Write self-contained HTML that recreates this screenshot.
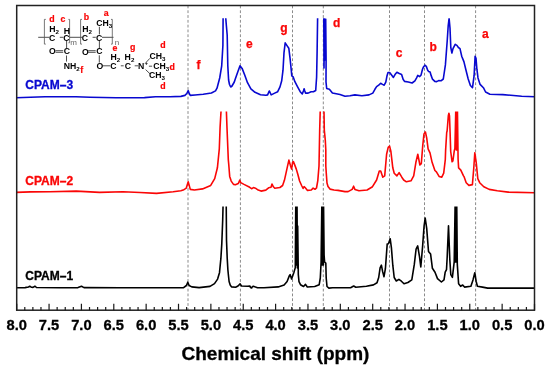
<!DOCTYPE html><html><head><meta charset="utf-8"><style>html,body{margin:0;padding:0;background:#fff;}svg{display:block;}text{font-family:"Liberation Sans",Arial,sans-serif;}</style></head><body>
<svg width="550" height="369" viewBox="0 0 550 369">
<rect width="550" height="369" fill="#fff"/>
<defs><clipPath id="c1"><rect x="16.7" y="206.6" width="517.8" height="110"/></clipPath><clipPath id="c2"><rect x="16.7" y="111.4" width="517.8" height="200"/></clipPath><clipPath id="c3"><rect x="16.7" y="18.3" width="517.8" height="290"/></clipPath></defs>
<line x1="188.0" y1="5.5" x2="188.0" y2="310.2" stroke="#8a8a8a" stroke-width="1" stroke-dasharray="2.8 2"/>
<line x1="240.4" y1="5.5" x2="240.4" y2="310.2" stroke="#8a8a8a" stroke-width="1" stroke-dasharray="2.8 2"/>
<line x1="292.5" y1="5.5" x2="292.5" y2="310.2" stroke="#8a8a8a" stroke-width="1" stroke-dasharray="2.8 2"/>
<line x1="323.3" y1="5.5" x2="323.3" y2="310.2" stroke="#8a8a8a" stroke-width="1" stroke-dasharray="2.8 2"/>
<line x1="389.5" y1="5.5" x2="389.5" y2="310.2" stroke="#8a8a8a" stroke-width="1" stroke-dasharray="2.8 2"/>
<line x1="424.5" y1="5.5" x2="424.5" y2="310.2" stroke="#8a8a8a" stroke-width="1" stroke-dasharray="2.8 2"/>
<line x1="475.6" y1="5.5" x2="475.6" y2="310.2" stroke="#8a8a8a" stroke-width="1" stroke-dasharray="2.8 2"/>
<polyline clip-path="url(#c1)" points="16.0,287.8 25.0,287.6 28.5,287.0 29.8,286.2 31.5,287.3 33.0,287.4 34.9,286.2 36.5,287.5 60.0,287.8 78.0,287.6 81.5,286.3 84.0,287.6 120.0,287.8 183.6,287.6 186.4,285.5 187.8,282.2 189.1,285.5 191.8,286.9 199.1,287.6 210.0,286.4 214.5,283.6 217.6,279.1 219.5,272.7 220.9,258.2 221.8,243.6 222.7,220.0 223.2,200.0 223.4,190.0 226.0,190.0 226.2,200.0 226.5,240.0 227.2,258.0 227.9,270.0 228.5,276.0 229.1,281.5 230.2,285.0 231.5,286.9 235.6,287.2 238.0,286.0 240.1,283.9 241.5,286.0 247.5,286.3 249.8,286.0 250.6,287.5 251.6,288.0 252.3,286.8 253.4,286.3 257.5,287.8 264.0,287.8 278.2,286.9 284.1,285.1 287.1,281.5 289.4,275.6 290.1,274.6 291.6,279.0 293.8,272.8 295.3,267.6 295.8,200.0 296.2,265.0 296.4,200.0 296.7,265.0 297.0,200.0 297.4,268.0 297.7,226.0 298.3,274.3 299.0,281.7 300.5,284.7 303.5,286.5 305.5,284.4 307.3,287.0 314.7,286.5 319.2,284.7 320.3,278.0 321.1,262.0 321.9,200.0 322.2,265.0 322.5,200.0 322.8,265.0 323.1,200.0 323.4,265.0 323.5,200.0 324.1,255.0 324.6,262.0 325.8,263.0 326.2,278.0 327.0,286.5 328.9,288.1 332.6,287.7 340.0,287.7 350.6,287.7 353.7,286.0 355.8,287.2 366.4,286.3 373.5,284.9 377.0,282.8 378.7,277.5 380.1,267.9 381.4,265.2 382.6,271.4 384.0,276.7 385.4,268.7 387.2,244.1 388.4,243.7 390.2,238.8 391.4,247.6 392.8,265.2 394.2,277.5 396.3,281.0 398.9,279.4 401.4,281.2 404.0,283.8 407.9,282.5 411.8,279.9 414.3,264.4 416.1,249.0 417.7,245.9 419.5,256.7 420.8,267.0 422.6,246.4 424.1,225.8 425.2,218.0 426.7,228.4 428.5,251.5 430.6,254.1 432.4,268.3 435.0,272.2 437.5,278.6 441.4,282.0 444.0,279.9 445.2,272.2 446.5,269.6 447.2,256.7 448.5,225.8 449.8,259.3 450.8,274.7 452.4,277.3 454.2,261.9 455.2,200.0 455.5,262.0 455.7,200.0 456.0,262.0 456.3,200.0 456.5,262.0 456.7,200.0 457.3,264.4 458.6,283.8 460.6,286.3 462.7,285.0 464.5,287.1 470.9,286.3 473.0,279.9 474.8,272.7 476.1,281.2 477.4,286.3 482.5,287.1 487.7,288.1 535.0,288.1" fill="none" stroke="#000000" stroke-width="1.6" stroke-linejoin="round"/>
<polyline clip-path="url(#c2)" points="16.0,192.4 30.5,191.9 50.0,191.8 76.2,191.1 99.6,192.4 123.0,191.8 140.0,192.5 156.5,193.4 173.2,191.8 180.8,190.8 183.2,190.1 186.3,188.1 188.2,181.8 190.3,189.4 194.4,190.0 202.5,188.9 210.7,185.4 214.7,178.6 217.4,167.8 219.3,148.8 220.1,127.1 221.0,111.5 221.2,100.0 226.3,100.0 226.4,111.5 227.0,128.0 228.3,159.6 228.8,165.0 229.7,176.4 231.2,181.1 233.5,184.4 235.4,184.7 238.3,183.5 239.7,180.2 240.7,182.6 244.0,184.4 249.7,187.3 251.6,188.7 253.5,187.6 255.4,188.2 258.2,190.1 261.0,191.1 265.8,190.1 268.6,187.8 271.0,187.3 272.0,184.0 273.4,186.8 274.8,188.2 279.9,187.5 282.6,185.5 284.4,180.3 285.9,173.6 287.7,165.4 288.9,160.1 290.4,165.4 291.6,169.1 292.6,162.4 293.4,161.6 294.9,165.4 296.3,169.1 297.8,174.3 299.6,181.0 301.6,185.5 303.1,188.5 304.1,186.6 305.3,187.8 307.5,190.4 311.3,190.0 313.1,188.1 315.0,189.3 316.5,188.0 317.8,180.6 319.0,166.0 319.7,129.4 320.2,111.8 320.3,100.0 323.9,100.0 324.0,111.5 324.3,130.0 325.3,140.4 325.8,150.0 325.8,166.0 326.4,175.0 327.0,183.0 328.0,186.5 330.0,189.1 334.0,190.0 338.0,190.4 345.0,191.6 348.1,191.6 352.2,189.4 353.6,186.2 354.9,189.4 359.0,190.8 367.1,190.0 372.5,186.7 376.6,180.0 379.3,171.0 380.7,171.0 382.8,177.2 384.7,175.9 386.6,154.2 388.2,147.4 389.6,146.1 390.9,151.5 392.8,167.8 394.2,173.2 396.9,175.9 399.1,172.6 401.8,177.2 403.7,180.0 406.4,181.8 411.0,180.8 413.7,175.9 415.9,162.3 417.8,154.2 419.9,165.0 421.3,163.7 422.7,146.1 424.0,133.9 425.4,132.0 426.7,137.9 428.1,148.8 430.0,152.8 432.1,162.3 434.9,170.5 436.4,171.8 439.1,176.4 441.8,177.2 443.7,173.2 445.3,159.6 445.6,150.6 446.7,132.5 447.1,131.0 447.6,125.0 448.3,116.0 448.9,113.2 449.5,116.0 450.1,132.5 450.7,151.5 451.8,159.6 452.1,161.8 452.9,161.0 454.3,150.6 454.9,148.4 456.0,100.0 456.3,150.0 456.6,100.0 456.9,150.0 457.3,100.0 458.1,159.2 458.6,167.9 460.8,170.1 463.5,175.9 464.0,176.6 466.2,182.7 468.9,185.4 472.4,184.6 473.8,167.8 474.8,152.8 476.2,162.3 477.8,178.6 479.7,182.7 483.8,186.7 489.2,189.4 497.3,190.8 508.2,192.1 535.0,192.7" fill="none" stroke="#FA0606" stroke-width="1.6" stroke-linejoin="round"/>
<polyline clip-path="url(#c3)" points="16.0,97.7 45.0,96.8 76.0,96.8 90.0,97.3 116.0,97.7 144.5,97.6 155.5,96.7 170.0,96.7 180.9,96.4 184.9,95.4 186.8,93.5 188.2,90.6 189.2,93.5 190.3,95.4 195.0,95.0 203.2,94.3 211.4,93.0 215.5,90.9 217.0,88.2 219.7,78.0 221.7,65.8 222.9,45.5 223.1,18.7 223.2,10.0 225.7,10.0 225.8,18.7 226.4,26.0 227.2,35.3 227.8,65.8 228.6,80.0 229.5,84.5 230.7,87.0 232.0,86.0 234.3,82.0 235.2,79.3 237.3,73.2 240.0,65.7 242.1,68.4 244.8,75.2 247.5,82.7 250.9,88.9 255.0,92.3 260.5,94.7 265.9,95.3 267.6,94.9 268.6,92.5 269.4,91.0 270.3,93.0 271.2,94.9 274.7,93.1 277.7,91.7 280.0,86.9 281.7,80.8 283.0,70.2 284.0,52.6 285.2,42.9 287.0,45.6 288.8,48.2 290.0,57.9 291.1,68.5 291.8,75.8 293.2,76.9 294.9,81.7 297.6,86.9 300.2,91.7 302.3,94.0 303.4,91.0 304.1,88.7 304.8,91.0 305.5,93.1 308.1,93.1 311.1,91.7 313.4,91.7 315.7,90.5 316.6,77.3 317.1,52.6 317.6,18.3 317.7,10.0 323.6,10.0 323.8,19.0 324.0,68.0 324.6,19.0 325.2,60.0 325.7,19.0 326.1,60.0 326.0,82.0 326.7,88.5 329.4,89.3 332.4,93.0 340.0,94.5 345.0,96.2 350.0,95.8 354.9,94.9 361.9,95.8 369.0,94.9 372.8,93.1 374.9,89.3 376.6,86.6 378.7,85.2 380.6,83.3 382.5,84.4 384.2,85.2 385.8,82.2 386.9,76.3 388.0,72.5 389.6,72.5 391.2,74.6 393.4,77.4 395.0,74.6 396.9,72.3 399.3,73.5 401.6,74.4 403.1,79.2 404.5,81.4 408.3,82.0 412.1,83.0 414.9,80.8 416.6,77.8 417.8,75.4 419.7,76.6 421.1,74.9 422.5,69.2 423.5,66.9 424.9,65.2 426.3,66.4 427.7,70.2 428.7,71.6 430.1,72.1 431.1,75.4 432.5,79.2 434.8,81.4 436.7,81.6 438.6,80.6 441.0,80.8 443.3,79.0 445.4,64.9 447.2,41.0 448.2,25.8 449.1,18.3 450.0,28.0 450.8,47.5 451.9,53.0 453.0,48.6 455.2,44.3 456.9,45.4 458.4,47.5 460.0,48.6 461.7,56.2 463.9,61.6 466.0,70.3 468.2,79.0 470.4,85.5 472.5,87.7 474.1,75.7 475.1,56.2 476.0,58.4 476.9,69.2 478.0,77.9 480.1,84.4 483.4,87.7 485.6,92.0 489.9,94.2 502.8,94.6 521.7,96.2 535.0,96.7" fill="none" stroke="#0808D0" stroke-width="1.6" stroke-linejoin="round"/>
<rect x="16.7" y="5.5" width="517.8" height="304.7" fill="none" stroke="#222" stroke-width="1.5"/>
<path d="M16.70 310.2V303.7M24.79 310.2V306.9M32.88 310.2V306.9M40.97 310.2V306.9M49.06 310.2V303.7M57.15 310.2V306.9M65.24 310.2V306.9M73.33 310.2V306.9M81.42 310.2V303.7M89.52 310.2V306.9M97.61 310.2V306.9M105.70 310.2V306.9M113.79 310.2V303.7M121.88 310.2V306.9M129.97 310.2V306.9M138.06 310.2V306.9M146.15 310.2V303.7M154.24 310.2V306.9M162.33 310.2V306.9M170.42 310.2V306.9M178.51 310.2V303.7M186.60 310.2V306.9M194.69 310.2V306.9M202.78 310.2V306.9M210.87 310.2V303.7M218.97 310.2V306.9M227.06 310.2V306.9M235.15 310.2V306.9M243.24 310.2V303.7M251.33 310.2V306.9M259.42 310.2V306.9M267.51 310.2V306.9M275.60 310.2V303.7M283.69 310.2V306.9M291.78 310.2V306.9M299.87 310.2V306.9M307.96 310.2V303.7M316.05 310.2V306.9M324.14 310.2V306.9M332.23 310.2V306.9M340.32 310.2V303.7M348.42 310.2V306.9M356.51 310.2V306.9M364.60 310.2V306.9M372.69 310.2V303.7M380.78 310.2V306.9M388.87 310.2V306.9M396.96 310.2V306.9M405.05 310.2V303.7M413.14 310.2V306.9M421.23 310.2V306.9M429.32 310.2V306.9M437.41 310.2V303.7M445.50 310.2V306.9M453.59 310.2V306.9M461.68 310.2V306.9M469.77 310.2V303.7M477.87 310.2V306.9M485.96 310.2V306.9M494.05 310.2V306.9M502.14 310.2V303.7M510.23 310.2V306.9M518.32 310.2V306.9M526.41 310.2V306.9M534.50 310.2V303.7" stroke="#1a1a1a" stroke-width="1.2" fill="none"/>
<text x="16.70" y="329.7" font-size="14.7" font-weight="bold" text-anchor="middle" fill="#000" stroke="#000" stroke-width="0.3">8.0</text>
<text x="49.06" y="329.7" font-size="14.7" font-weight="bold" text-anchor="middle" fill="#000" stroke="#000" stroke-width="0.3">7.5</text>
<text x="81.42" y="329.7" font-size="14.7" font-weight="bold" text-anchor="middle" fill="#000" stroke="#000" stroke-width="0.3">7.0</text>
<text x="113.79" y="329.7" font-size="14.7" font-weight="bold" text-anchor="middle" fill="#000" stroke="#000" stroke-width="0.3">6.5</text>
<text x="146.15" y="329.7" font-size="14.7" font-weight="bold" text-anchor="middle" fill="#000" stroke="#000" stroke-width="0.3">6.0</text>
<text x="178.51" y="329.7" font-size="14.7" font-weight="bold" text-anchor="middle" fill="#000" stroke="#000" stroke-width="0.3">5.5</text>
<text x="210.87" y="329.7" font-size="14.7" font-weight="bold" text-anchor="middle" fill="#000" stroke="#000" stroke-width="0.3">5.0</text>
<text x="243.24" y="329.7" font-size="14.7" font-weight="bold" text-anchor="middle" fill="#000" stroke="#000" stroke-width="0.3">4.5</text>
<text x="275.60" y="329.7" font-size="14.7" font-weight="bold" text-anchor="middle" fill="#000" stroke="#000" stroke-width="0.3">4.0</text>
<text x="307.96" y="329.7" font-size="14.7" font-weight="bold" text-anchor="middle" fill="#000" stroke="#000" stroke-width="0.3">3.5</text>
<text x="340.32" y="329.7" font-size="14.7" font-weight="bold" text-anchor="middle" fill="#000" stroke="#000" stroke-width="0.3">3.0</text>
<text x="372.69" y="329.7" font-size="14.7" font-weight="bold" text-anchor="middle" fill="#000" stroke="#000" stroke-width="0.3">2.5</text>
<text x="405.05" y="329.7" font-size="14.7" font-weight="bold" text-anchor="middle" fill="#000" stroke="#000" stroke-width="0.3">2.0</text>
<text x="437.41" y="329.7" font-size="14.7" font-weight="bold" text-anchor="middle" fill="#000" stroke="#000" stroke-width="0.3">1.5</text>
<text x="469.77" y="329.7" font-size="14.7" font-weight="bold" text-anchor="middle" fill="#000" stroke="#000" stroke-width="0.3">1.0</text>
<text x="502.14" y="329.7" font-size="14.7" font-weight="bold" text-anchor="middle" fill="#000" stroke="#000" stroke-width="0.3">0.5</text>
<text x="534.50" y="329.7" font-size="14.7" font-weight="bold" text-anchor="middle" fill="#000" stroke="#000" stroke-width="0.3">0.0</text>
<text x="275.5" y="360.3" font-size="19" font-weight="bold" text-anchor="middle" fill="#000" stroke="#000" stroke-width="0.3">Chemical shift (ppm)</text>
<text x="25.3" y="88.6" font-size="12" font-weight="bold" fill="#0808D0" stroke="#0808D0" stroke-width="0.3">CPAM–3</text>
<text x="25.3" y="184.6" font-size="12" font-weight="bold" fill="#FA0606" stroke="#FA0606" stroke-width="0.3">CPAM–2</text>
<text x="25.3" y="279.6" font-size="12" font-weight="bold" fill="#000" stroke="#000" stroke-width="0.3">CPAM–1</text>
<text x="196.4" y="68.8" font-size="12" font-weight="bold" fill="#FA0606" stroke="#FA0606" stroke-width="0.25">f</text>
<text x="246" y="47.8" font-size="12" font-weight="bold" fill="#FA0606" stroke="#FA0606" stroke-width="0.25">e</text>
<text x="280.2" y="32" font-size="12" font-weight="bold" fill="#FA0606" stroke="#FA0606" stroke-width="0.25">g</text>
<text x="333" y="26.6" font-size="12" font-weight="bold" fill="#FA0606" stroke="#FA0606" stroke-width="0.25">d</text>
<text x="395.8" y="56.6" font-size="12" font-weight="bold" fill="#FA0606" stroke="#FA0606" stroke-width="0.25">c</text>
<text x="429.6" y="51" font-size="12" font-weight="bold" fill="#FA0606" stroke="#FA0606" stroke-width="0.25">b</text>
<text x="482" y="38" font-size="12" font-weight="bold" fill="#FA0606" stroke="#FA0606" stroke-width="0.25">a</text>
<line x1="38.2" y1="37.3" x2="49.2" y2="37.3" stroke="#222" stroke-width="0.8"/>
<line x1="59.8" y1="37.3" x2="63.4" y2="37.3" stroke="#222" stroke-width="0.8"/>
<line x1="69.3" y1="37.3" x2="82.0" y2="37.3" stroke="#222" stroke-width="0.8"/>
<line x1="92.6" y1="37.3" x2="95.8" y2="37.3" stroke="#222" stroke-width="0.8"/>
<line x1="102.0" y1="37.3" x2="113.5" y2="37.3" stroke="#222" stroke-width="0.8"/>
<path d="M45.8 19.4H44.4V44.1H45.8M68.4 19.4H69.6V42.8H68.4M82 19.4H80.6V44.1H82M111 19.4H112.3V44.1H111" fill="none" stroke="#555" stroke-width="0.8"/>
<text x="70.3" y="44.6" font-size="8" fill="#666" font-family="Liberation Serif,serif">m</text>
<text x="114.8" y="44.9" font-size="8" fill="#666" font-family="Liberation Serif,serif">n</text>
<text x="49.3" y="31.5" font-size="8.7" font-weight="bold" fill="#000" >H<tspan font-size="6.2" dy="2">2</tspan></text>
<text x="63.8" y="33.5" font-size="8.7" font-weight="bold" fill="#000" >H</text>
<text x="82.3" y="31.9" font-size="8.7" font-weight="bold" fill="#000" >H<tspan font-size="6.2" dy="2">2</tspan></text>
<text x="96.2" y="25.9" font-size="8.7" font-weight="bold" fill="#000" >CH<tspan font-size="6.2" dy="2">3</tspan></text>
<text x="49.0" y="40.6" font-size="8.7" font-weight="bold" fill="#000" >C</text>
<text x="63.3" y="40.6" font-size="8.7" font-weight="bold" fill="#000" >C</text>
<text x="81.8" y="40.6" font-size="8.7" font-weight="bold" fill="#000" >C</text>
<text x="96.1" y="40.6" font-size="8.7" font-weight="bold" fill="#000" >C</text>
<line x1="99.4" y1="26.8" x2="99.4" y2="34.4" stroke="#222" stroke-width="0.8"/>
<line x1="66.6" y1="41.0" x2="66.6" y2="48.2" stroke="#222" stroke-width="0.8"/>
<line x1="99.4" y1="41.0" x2="99.4" y2="48.2" stroke="#222" stroke-width="0.8"/>
<text x="49.1" y="54.4" font-size="8.7" font-weight="bold" fill="#000" >O</text>
<line x1="55.5" y1="50.7" x2="63.2" y2="50.7" stroke="#222" stroke-width="0.8"/>
<line x1="55.5" y1="52.3" x2="63.2" y2="52.3" stroke="#222" stroke-width="0.8"/>
<text x="63.7" y="54.4" font-size="8.7" font-weight="bold" fill="#000" >C</text>
<text x="81.9" y="54.5" font-size="8.7" font-weight="bold" fill="#000" >O</text>
<line x1="88.2" y1="50.7" x2="95.7" y2="50.7" stroke="#222" stroke-width="0.8"/>
<line x1="88.2" y1="52.3" x2="95.7" y2="52.3" stroke="#222" stroke-width="0.8"/>
<text x="96.2" y="54.4" font-size="8.7" font-weight="bold" fill="#000" >C</text>
<line x1="66.5" y1="55.5" x2="66.5" y2="61.6" stroke="#222" stroke-width="0.8"/>
<line x1="99.3" y1="55.3" x2="99.3" y2="62.6" stroke="#222" stroke-width="0.8"/>
<text x="63.7" y="68.6" font-size="8.7" font-weight="bold" fill="#000" >NH<tspan font-size="6.2" dy="2">2</tspan></text>
<text x="96.4" y="68.5" font-size="8.7" font-weight="bold" fill="#000" >O</text>
<line x1="102.2" y1="65.8" x2="110.2" y2="65.8" stroke="#222" stroke-width="0.8"/>
<text x="110.5" y="59.8" font-size="8.7" font-weight="bold" fill="#000" >H<tspan font-size="6.2" dy="2">2</tspan></text>
<text x="110.3" y="68.5" font-size="8.7" font-weight="bold" fill="#000" >C</text>
<line x1="120.8" y1="65.8" x2="123.7" y2="65.8" stroke="#222" stroke-width="0.8"/>
<text x="124.6" y="59.8" font-size="8.7" font-weight="bold" fill="#000" >H<tspan font-size="6.2" dy="2">2</tspan></text>
<text x="124.7" y="68.5" font-size="8.7" font-weight="bold" fill="#000" >C</text>
<line x1="134.7" y1="65.8" x2="138.2" y2="65.8" stroke="#222" stroke-width="0.8"/>
<text x="138.1" y="68.7" font-size="8.7" font-weight="bold" fill="#000" >N<tspan font-size="6" dy="-4">+</tspan></text>
<line x1="145.8" y1="62.7" x2="149.9" y2="58.3" stroke="#222" stroke-width="0.8"/>
<line x1="148.9" y1="66.2" x2="152.1" y2="66.2" stroke="#222" stroke-width="0.8"/>
<line x1="145.6" y1="69.6" x2="150.1" y2="73.9" stroke="#222" stroke-width="0.8"/>
<text x="149.4" y="58.9" font-size="8.7" font-weight="bold" fill="#000" >CH<tspan font-size="6.2" dy="2">3</tspan></text>
<text x="153.2" y="68.9" font-size="8.7" font-weight="bold" fill="#000" >CH<tspan font-size="6.2" dy="2">3</tspan></text>
<text x="149.0" y="78.2" font-size="8.7" font-weight="bold" fill="#000" >CH<tspan font-size="6.2" dy="2">3</tspan></text>
<text x="49.2" y="22.1" font-size="8.8" font-weight="bold" fill="#FA0606" stroke="#FA0606" stroke-width="0.2">d</text>
<text x="60.6" y="21.9" font-size="8.8" font-weight="bold" fill="#FA0606" stroke="#FA0606" stroke-width="0.2">c</text>
<text x="83.8" y="19.5" font-size="8.8" font-weight="bold" fill="#FA0606" stroke="#FA0606" stroke-width="0.2">b</text>
<text x="103.8" y="15.8" font-size="8.8" font-weight="bold" fill="#FA0606" stroke="#FA0606" stroke-width="0.2">a</text>
<text x="80.2" y="73.0" font-size="8.8" font-weight="bold" fill="#FA0606" stroke="#FA0606" stroke-width="0.2">f</text>
<text x="112.6" y="50.6" font-size="8.8" font-weight="bold" fill="#FA0606" stroke="#FA0606" stroke-width="0.2">e</text>
<text x="130" y="50.0" font-size="8.8" font-weight="bold" fill="#FA0606" stroke="#FA0606" stroke-width="0.2">g</text>
<text x="160.2" y="48.0" font-size="8.8" font-weight="bold" fill="#FA0606" stroke="#FA0606" stroke-width="0.2">d</text>
<text x="169.5" y="69.7" font-size="8.8" font-weight="bold" fill="#FA0606" stroke="#FA0606" stroke-width="0.2">d</text>
<text x="160.2" y="89.0" font-size="8.8" font-weight="bold" fill="#FA0606" stroke="#FA0606" stroke-width="0.2">d</text>
</svg></body></html>
